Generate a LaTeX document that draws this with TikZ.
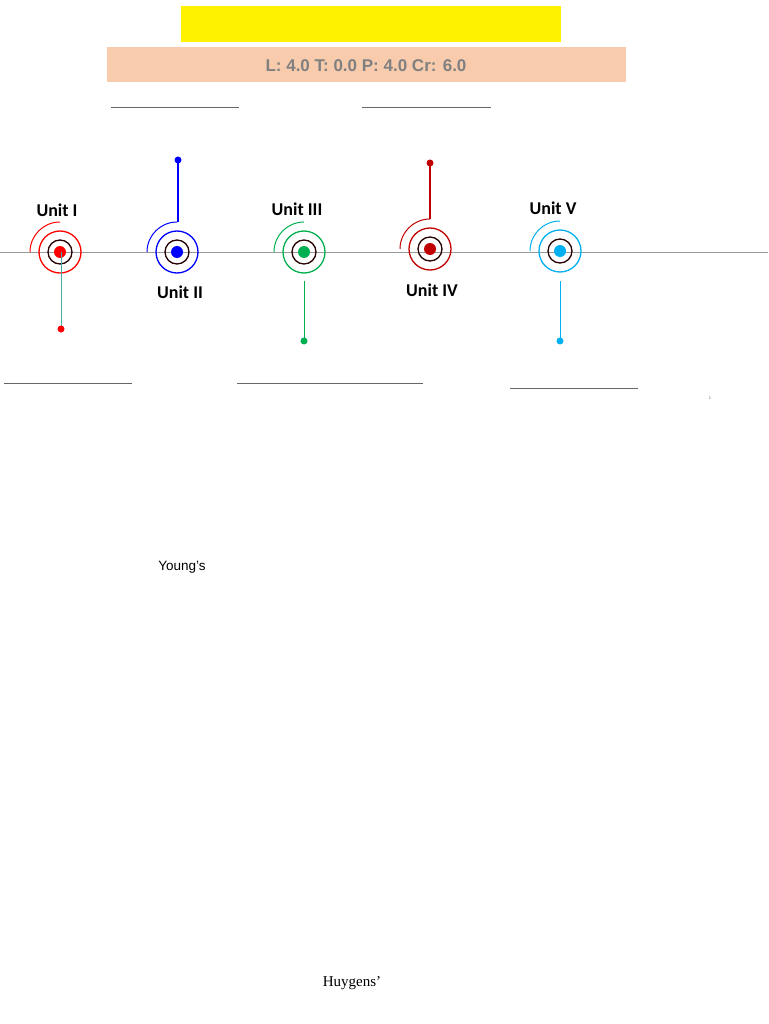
\documentclass[tikz,border=0pt]{standalone}
\usepackage{fontspec}
\setmainfont{Liberation Serif}
\newfontfamily\carl{Carlito}
\newfontfamily\lsans{Liberation Sans}
\definecolor{peach}{HTML}{F8CBAD}
\definecolor{ured}{HTML}{FF0000}
\definecolor{ublue}{HTML}{0000FF}
\definecolor{ugreen}{HTML}{00B050}
\definecolor{udred}{HTML}{C00000}
\definecolor{ucyan}{HTML}{00B0F0}
\definecolor{uteal}{HTML}{4BACA6}
\begin{document}
\begin{tikzpicture}[x=1pt,y=-1pt,
  ulab/.style={font=\carl\bfseries\fontsize{18}{20}\selectfont},
  blank/.style={draw=black!60,line width=0.8pt}]
\useasboundingbox (0,0) rectangle (768,1024);
\fill[white] (0,0) rectangle (768,1024);
\fill[yellow] (181,6) rectangle (561,42);
\fill[peach] (107,47) rectangle (626,82);
\node (hdr) at (366,66) {\lsans\bfseries\fontsize{17}{20}\selectfont\color{black!50}L: 4.0 T: 0.0 P: 4.0 Cr: 6.0};
\draw[black!40,line width=0.6pt] (0,252) -- (768,252);
\foreach \a/\b/\y in {111/239/107,362/491/107,4/132/383,237/423/383,510/638/388}
  \draw[blank] (\a,\y) -- (\b,\y);
% units
\def\unit#1#2#3#4{%
  \draw[#2,line width=1.3pt] (#1,#3) circle (21);
  \draw[black!85!red,line width=1.3pt] (#1,#3) circle (12);
  \fill[#2] (#1,#3) circle (6);
  \draw[#2,line width=1pt] (#1,#3) ++(#4:30) arc[start angle=#4,end angle=#4+90,radius=30];
}
\unit{60}{ured}{252}{180}
\unit{177}{ublue}{252}{180}
\unit{304}{ugreen}{252}{180}
\unit{430}{udred}{249}{180}
\unit{560}{ucyan}{251}{180}
\coordinate (r1) at (61,329); \draw[uteal,line width=1pt] (61,252) -- (r1); \fill[ured] (r1) circle (3.5);
\coordinate (b1) at (178,160); \draw[ublue,line width=1.2pt] (178,222) -- (b1); \fill[ublue] (b1) circle (3.5);
\coordinate (g1) at (304,341); \draw[ugreen,line width=1pt] (304,281) -- (g1); \fill[ugreen] (g1) circle (3.5);
\coordinate (d1) at (430,163); \draw[udred,line width=1.2pt] (430,219) -- (d1); \fill[udred] (d1) circle (3.5);
\coordinate (c1) at (560,341); \draw[ucyan,line width=1pt] (560,281) -- (c1); \fill[ucyan] (c1) circle (3.5);
\node[ulab] (l1) at (57,210) {Unit I};
\node[ulab] (l2) at (180,292) {Unit II};
\node[ulab] (l3) at (297,209) {Unit III};
\node[ulab] (l4) at (432,290) {Unit IV};
\node[ulab] (l5) at (553,208) {Unit V};
\node[font=\lsans\fontsize{4}{5}\selectfont,text=black!60] (one) at (710,398) {1};
\node[font=\lsans\fontsize{13.5}{16}\selectfont] (yg) at (182,567) {Young’s};
\node[font=\fontsize{15}{18}\selectfont] (hy) at (352,983) {Huygens’};
\end{tikzpicture}
\end{document}
